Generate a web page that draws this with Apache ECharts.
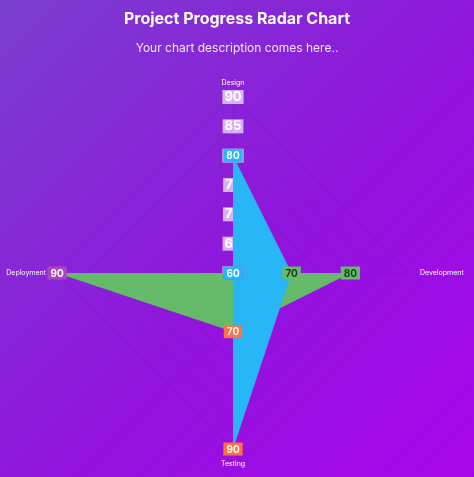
<!DOCTYPE html>
<html>
<head>
<meta charset="utf-8">
<script src="https://cdn.jsdelivr.net/npm/echarts@6/dist/echarts.min.js"></script>
<style>
html,body{margin:0;padding:0;width:474px;height:477px;overflow:hidden;}
body{background:linear-gradient(135deg,#7a3fcf 0%,#9114dd 55%,#a806ea 100%);}
#chart{width:474px;height:477px;}
</style>
</head>
<body>
<div id="chart"></div>
<script>
// Indicators in ECharts order (counter-clockwise from top)
const indicatorNames = ['Design', 'Deployment', 'Testing', 'Development'];
const axisMin = 60;
const axisMax = 90;
const seriesNames = ['Plan B', 'Plan A'];
const valuesGreen = [60, 90, 70, 80];
const valuesBlue = [80, 60, 90, 70];
const dimColors = ['#29b6f6', '#ab47bc', '#ff7043', '#66bb6a'];
const dimTextColors = ['#ffffff', '#ffffff', '#ffffff', '#1c3a1c'];

const rich = {};
dimColors.forEach((c, i) => {
  rich['d' + i] = {
    backgroundColor: c, color: dimTextColors[i], fontSize: 10, fontWeight: 'bold',
    fontFamily: 'Inter', padding: [2, 3, 1, 3]
  };
});
const labelOpt = {
  show: true, position: 'inside',
  formatter: p => '{d' + p.dimensionIndex + '|' + p.value + '}',
  rich: rich
};

const chart = echarts.init(document.getElementById('chart'), null, {renderer: 'canvas'});
chart.setOption({
  backgroundColor: 'transparent',
  title: {
    text: 'Project Progress Radar Chart',
    subtext: 'Your chart description comes here..',
    left: 'center', top: 6, itemGap: 15,
    textStyle: {color: '#ffffff', fontSize: 16, fontWeight: 'bold', fontFamily: 'Inter'},
    subtextStyle: {color: '#f3e6ff', fontSize: 12, fontFamily: 'Inter'}
  },
  radar: {
    center: [233, 273],
    radius: 176,
    shape: 'polygon',
    splitNumber: 6,
    axisName: {color: '#ffffff', fontSize: 7, fontFamily: 'Inter'},
    nameGap: 11,
    splitLine: {lineStyle: {color: 'rgba(60,0,110,0.18)', width: 0.6}},
    splitArea: {show: false},
    axisLine: {lineStyle: {color: 'rgba(60,0,110,0.18)', width: 0.6}},
    indicator: indicatorNames.map((n, i) => {
      const o = {name: n, min: axisMin, max: axisMax};
      if (i === 0) {
        o.axisLabel = {
          show: true, color: '#ffffff', fontSize: 13, fontWeight: 'bold', fontFamily: 'Inter',
          backgroundColor: 'rgba(255,255,255,0.66)', padding: [1, 2, 0, 2],
          margin: 0, align: 'center', verticalAlign: 'middle'
        };
      }
      return o;
    })
  },
  series: [
    {
      type: 'radar', z: 2,
      symbol: 'circle', symbolSize: 2,
      lineStyle: {width: 0},
      areaStyle: {opacity: 1},
      label: {show: false},
      data: [
        {name: seriesNames[0], value: valuesGreen, itemStyle: {color: '#66bb6a'}, areaStyle: {color: '#66bb6a'}},
        {name: seriesNames[1], value: valuesBlue, itemStyle: {color: '#29b6f6'}, areaStyle: {color: '#29b6f6'}, label: labelOpt}
      ]
    },
    {
      type: 'radar', z: 3,
      symbol: 'circle', symbolSize: 1,
      lineStyle: {width: 0, color: 'rgba(0,0,0,0)'},
      itemStyle: {color: 'rgba(0,0,0,0)', borderWidth: 0},
      data: [
        {name: seriesNames[0], value: valuesGreen, label: labelOpt}
      ]
    }
  ]
});
</script>
</body>
</html>
